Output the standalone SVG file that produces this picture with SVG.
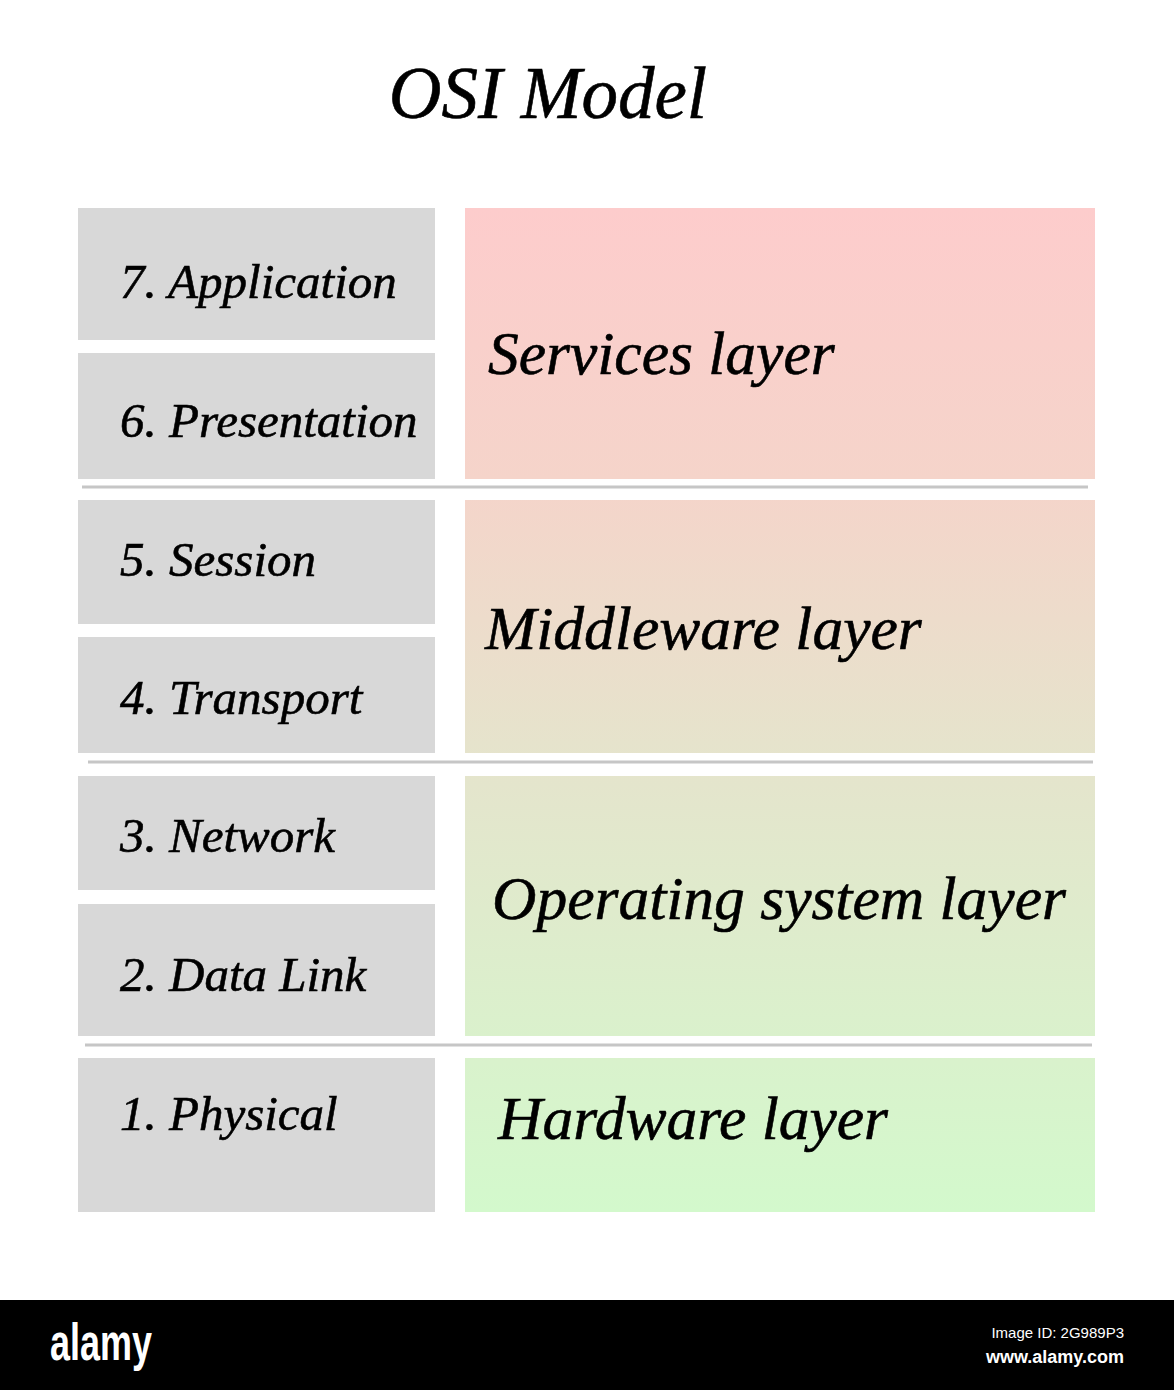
<svg xmlns="http://www.w3.org/2000/svg" width="1174" height="1390" viewBox="0 0 1174 1390">
<style>
.t{font-family:"Liberation Serif","Times New Roman",serif;font-style:italic;fill:#000;stroke:#000;stroke-width:0.6}
.lab{font-size:49px}
.big{font-size:61.5px}
.box{fill:#d8d8d8}
.sep{stroke:#c6c6c6;stroke-width:3;fill:none}
.wm{font-family:"Liberation Sans",Arial,sans-serif;fill:#fff}
</style>
<defs>
<linearGradient id="g" gradientUnits="userSpaceOnUse" x1="0" y1="208" x2="0" y2="1212">
<stop offset="0" stop-color="#fdcccc"/>
<stop offset="0.27" stop-color="#f5d4ca"/>
<stop offset="0.55" stop-color="#e5e4cc"/>
<stop offset="1" stop-color="#d3f9cc"/>
</linearGradient>
</defs>
<rect width="1174" height="1390" fill="#fff"/>
<text class="t" x="548" y="118" font-size="73" text-anchor="middle">OSI Model</text>

<g id="l7"><rect class="box" x="78" y="208" width="357" height="132"/><text class="t lab" x="120" y="298">7. Application</text></g>
<g id="l6"><rect class="box" x="78" y="353" width="357" height="126"/><text class="t lab" x="120" y="437">6. Presentation</text></g>
<g id="l5"><rect class="box" x="78" y="500" width="357" height="124"/><text class="t lab" x="120" y="576">5. Session</text></g>
<g id="l4"><rect class="box" x="78" y="637" width="357" height="116"/><text class="t lab" x="120" y="714">4. Transport</text></g>
<g id="l3"><rect class="box" x="78" y="776" width="357" height="114"/><text class="t lab" x="120" y="852">3. Network</text></g>
<g id="l2"><rect class="box" x="78" y="904" width="357" height="132"/><text class="t lab" x="120" y="991">2. Data Link</text></g>
<g id="l1"><rect class="box" x="78" y="1058" width="357" height="154"/><text class="t lab" x="120" y="1130">1. Physical</text></g>

<g id="services"><rect x="465" y="208" width="630" height="271" fill="url(#g)"/><text class="t big" x="488" y="374">Services layer</text></g>
<g id="middleware"><rect x="465" y="500" width="630" height="253" fill="url(#g)"/><text class="t big" x="485" y="649">Middleware layer</text></g>
<g id="os"><rect x="465" y="776" width="630" height="260" fill="url(#g)"/><text class="t big" x="492" y="919">Operating system layer</text></g>
<g id="hardware"><rect x="465" y="1058" width="630" height="154" fill="url(#g)"/><text class="t big" x="498" y="1139">Hardware layer</text></g>

<g id="connectors">
<line class="sep" x1="82" y1="487" x2="1088" y2="487"/>
<line class="sep" x1="88" y1="762" x2="1093" y2="762"/>
<line class="sep" x1="85" y1="1045" x2="1092" y2="1045"/>
</g>

<g id="footer">
<rect x="0" y="1300" width="1174" height="90" fill="#000"/>
<text class="wm" x="50" y="1360" font-size="52" font-weight="bold" textLength="102" lengthAdjust="spacingAndGlyphs">alamy</text>
<text class="wm" x="1124" y="1338" font-size="15" text-anchor="end">Image ID: 2G989P3</text>
<text class="wm" x="1124" y="1363" font-size="18" font-weight="bold" text-anchor="end">www.alamy.com</text>
</g>
</svg>
